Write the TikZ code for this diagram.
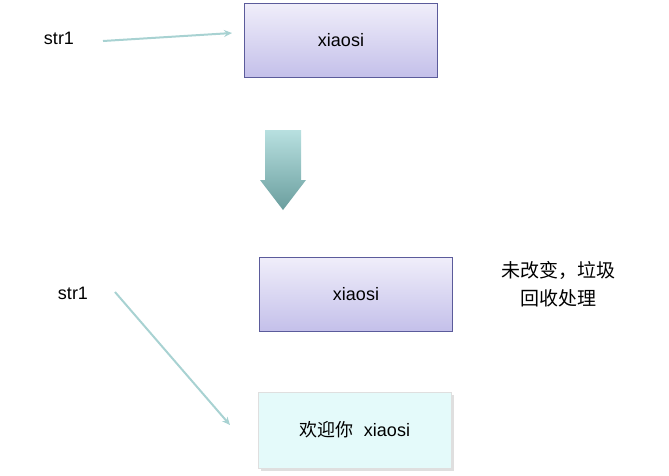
\documentclass[tikz,border=0pt]{standalone}
\usepackage{fontspec}
\setmainfont{Liberation Sans}
\newfontfamily\cjk{Noto Sans CJK SC}
\usetikzlibrary{positioning,arrows.meta,shadows}
\definecolor{boxline}{HTML}{5B5B9B}
\definecolor{boxtop}{HTML}{F0EEFA}
\definecolor{boxbot}{HTML}{C4C0EA}
\definecolor{ptrline}{HTML}{A8D2D2}
\definecolor{cyanbox}{HTML}{E4FAFA}
\definecolor{steptop}{HTML}{B8E0E0}
\definecolor{stepbot}{HTML}{6A9E9E}
\begin{document}
\begin{tikzpicture}[
    x=1pt, y=-1pt,
    font=\fontsize{18}{20}\selectfont,
    % Styles
    strbox/.style={% lavender string objects
        rectangle,
        draw=boxline,
        top color=boxtop,
        bottom color=boxbot,
        minimum width=193pt,
        minimum height=74pt,
        },
    newbox/.style={% new string object
        rectangle,
        draw=gray!25,
        fill=cyanbox,
        drop shadow={opacity=0.25},
        minimum width=193pt,
        minimum height=76pt,
        },
    ptr/.style={% reference arrows
        -{Stealth[length=8pt,width=7pt]},
        draw=ptrline,
        line width=2pt,
        },
    ]
    \useasboundingbox (0,0) rectangle (669,475);

    % Objects
    \node [strbox] (old) at (341,40) {xiaosi};
    \node [strbox] (kept) at (356,294) {xiaosi};
    \node [newbox] (new) at (355,430) {{\cjk 欢迎你}\ \ xiaosi};

    % Variables
    \node (str1a) at (59,38) {str1};
    \node (str1b) at (73,293) {str1};
    \node [align=center, font=\cjk\fontsize{19}{28}\selectfont] (note) at (558,284) {未改变，垃圾\\回收处理};

    % Step arrow
    \path [top color=steptop, bottom color=stepbot]
        (265,130) -- (301,130) -- (301,180) -- (306,180) -- (283,210)
        -- (260,180) -- (265,180) -- cycle;

    % References
    \coordinate (a1s) at (103,41);
    \coordinate (a1e) at (232,33);
    \coordinate (a2s) at (115,292);
    \coordinate (a2e) at (230,425);
    \draw [ptr] (a1s) -- (a1e);
    \draw [ptr] (a2s) -- (a2e);
\end{tikzpicture}
\end{document}
